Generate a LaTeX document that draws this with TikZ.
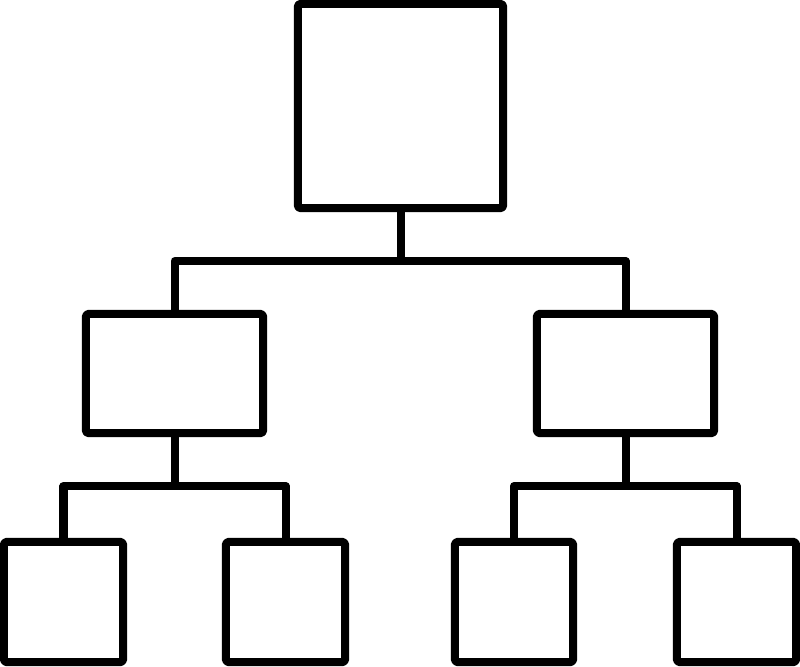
\documentclass[tikz,border=0pt]{standalone}
\usepackage{tikz}

\begin{document}
\begin{tikzpicture}[x=0.01cm,y=-0.01cm]

	\useasboundingbox (0,0) rectangle (800,666);
	\tikzstyle{edge} = [draw,-,line width=0.08cm,line join=round]
	\tikzset{box/.style = {shape=rectangle,draw,line width=0.08cm,line join=round,rounded corners=0.5pt,inner sep=0pt,outer sep=0pt}}

	\node[box,minimum width=2.05cm,minimum height=2.04cm] (root) at (400.5,106) {};

	\node[box,minimum width=1.77cm,minimum height=1.19cm] (left) at (174.5,373.5) {};
	\node[box,minimum width=1.77cm,minimum height=1.19cm] (right) at (625.5,373.5) {};

	\node[box,minimum width=1.19cm,minimum height=1.20cm] (ll) at (63.5,602) {};
	\node[box,minimum width=1.19cm,minimum height=1.20cm] (lr) at (285.5,602) {};
	\node[box,minimum width=1.18cm,minimum height=1.20cm] (rl) at (514,602) {};
	\node[box,minimum width=1.19cm,minimum height=1.20cm] (rr) at (736.5,602) {};

	\coordinate (j0) at (400.5,261);
	\coordinate (j1) at (174.5,486);
	\coordinate (j2) at (625.5,486);

	\draw[edge] (root) to (j0);
	\draw[edge] (left.north) |- (j0) -| (right.north);
	\draw[edge] (left) to (j1);
	\draw[edge] (ll.north) |- (j1) -| (lr.north);
	\draw[edge] (right) to (j2);
	\draw[edge] (rl.north) |- (j2) -| (rr.north);
\end{tikzpicture}
\end{document}
